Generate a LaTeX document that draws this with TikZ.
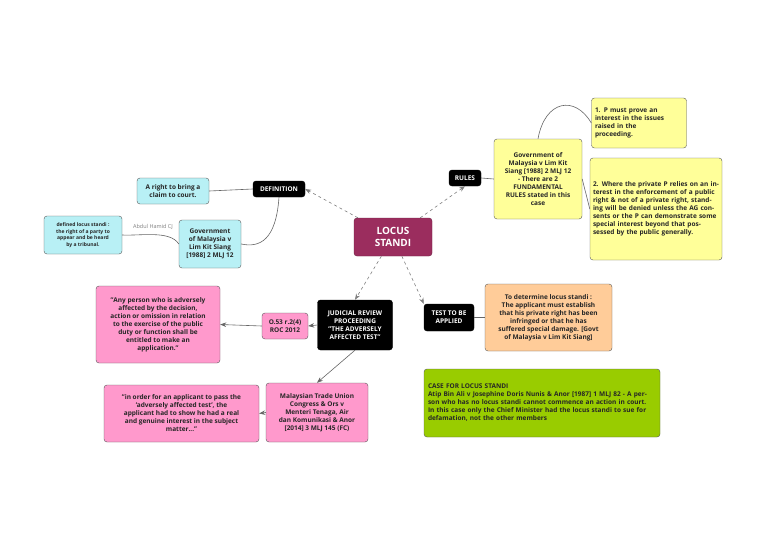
\documentclass[tikz,border=0pt]{standalone}
\usepackage{fontspec}
\setmainfont{Open Sans}
\usetikzlibrary{arrows.meta}
\definecolor{cy}{HTML}{B8F0F5}
\definecolor{yl}{HTML}{FFFF99}
\definecolor{pk}{HTML}{FF99CC}
\definecolor{orr}{HTML}{FFCC99}
\definecolor{gr}{HTML}{99CC00}
\definecolor{mg}{HTML}{9B2D5E}
\begin{document}
\begin{tikzpicture}[x=1pt,y=-1pt,
 bx/.style={draw=gray!70!black,rounded corners=3pt,font=\bfseries\fontsize{6.5}{8}\selectfont,align=center,inner sep=2pt,text=black!85},
 blk/.style={bx,fill=black,text=white,draw=black},
 ln/.style={draw=gray!80!black,line width=0.6pt},
 da/.style={draw=gray,dashed,line width=0.6pt,-{Stealth[length=6pt]}},
 ar/.style={ln,-{Stealth[length=6pt]}}]
\useasboundingbox (0,0) rectangle (768,543);
\fill[white] (0,0) rectangle (768,543);
\node[bx,fill=mg,text=white,draw=mg!70!black,font=\bfseries\fontsize{10}{12}\selectfont,minimum width=78,minimum height=38] (ls) at (393,237) {LOCUS\\STANDI};
\node[blk,minimum width=52,minimum height=16] (def) at (279,189) {DEFINITION};
\node[bx,fill=cy,minimum width=72,minimum height=26] (rt) at (173,191) {A right to bring a\\claim to court.};
\node[bx,fill=cy,minimum width=62,minimum height=48] (gv) at (210,244) {Government\\of Malaysia v\\Lim Kit Siang\\{[1988]} 2 MLJ 12};
\node[bx,fill=cy,font=\bfseries\fontsize{5}{6.5}\selectfont,minimum width=78,minimum height=38] (dl) at (83,235) {defined locus standi :\\the right of a party to\\appear and be heard\\by a tribunal.};
\node[font=\fontsize{5.5}{6}\selectfont,text=gray] (ah) at (153,227) {Abdul Hamid CJ};
\node[blk,minimum width=32,minimum height=16] (ru) at (465,178) {RULES};
\node[bx,fill=yl,minimum width=88,minimum height=80] (gy) at (538,179) {Government of\\Malaysia v Lim Kit\\Siang [1988] 2 MLJ 12\\- There are 2\\FUNDAMENTAL\\RULES stated in this\\case};
\node[bx,fill=yl,align=left,minimum width=95,minimum height=50,text width=88] (r1) at (639,123) {1. P must prove an\\interest in the issues\\raised in the\\proceeding.};
\node[bx,fill=yl,align=left,minimum width=132,minimum height=102,text width=126] (r2) at (656,209) {2. Where the private P relies on an interest in the enforcement of a public right \& not of a private right, standing will be denied unless the AG consents or the P can demonstrate some special interest beyond that possessed by the public generally.};
\node[blk,minimum width=75,minimum height=50] (jr) at (355,325) {JUDICIAL REVIEW\\PROCEEDING\\"THE ADVERSELY\\AFFECTED TEST"};
\node[bx,fill=pk,minimum width=46,minimum height=26] (o53) at (285,326) {O.53 r.2(4)\\ROC 2012};
\node[bx,fill=pk,minimum width=124,minimum height=77] (ap) at (158,324.5) {"Any person who is adversely\\affected by the decision,\\action or omission in relation\\to the exercise of the public\\duty or function shall be\\entitled to make an\\application."};
\node[bx,fill=pk,minimum width=102,minimum height=59] (mt) at (317,412.5) {Malaysian Trade Union\\Congress \& Ors v\\Menteri Tenaga, Air\\dan Komunikasi \& Anor\\{[2014]} 3 MLJ 145 (FC)};
\node[bx,fill=pk,minimum width=155,minimum height=57] (io) at (181.5,413.5) {"in order for an applicant to pass the\\'adversely affected test', the\\applicant had to show he had a real\\and genuine interest in the subject\\matter..."};
\node[blk,minimum width=50,minimum height=27] (tt) at (449,317.5) {TEST TO BE\\APPLIED};
\node[bx,fill=orr,minimum width=127,minimum height=67] (td) at (548.5,317.5) {To determine locus standi :\\The applicant must establish\\that his private right has been\\infringed or that he has\\suffered special damage. [Govt\\of Malaysia v Lim Kit Siang]};
\node[bx,fill=gr,align=left,minimum width=236,minimum height=68,text width=228] (cs) at (542,403) {CASE FOR LOCUS STANDI\\Atip Bin Ali v Josephine Doris Nunis \& Anor [1987] 1 MLJ 82 - A person who has no locus standi cannot commence an action in court. In this case only the Chief Minister had the locus standi to sue for defamation, not the other members};
\draw[da] (ls) -- (def.east);
\draw[da] (ls) -- (ru.south);
\draw[da] (ls) -- (jr.north);
\draw[da] (ls) -- (tt.north west);
\draw[ln] (def.west) -- (rt.east);
\draw[ln] (def.south) .. controls (276,240) and (260,248) .. (gv.east);
\draw[ln] (gv.west) .. controls (170,230) and (140,236) .. (dl.east);
\draw[ln] (ru.east) -- (gy.west);
\draw[ln] (gy.north) .. controls (545,100) and (575,95) .. (r1.west);
\draw[ln] (gy.east) -- (r2.west);
\draw[ar] (jr.west) -- (o53.east);
\draw[ar] (o53.west) -- (ap.east);
\draw[ar] (jr.south) -- (mt.north);
\draw[ar] (mt.west) -- (io.east);
\draw[ln] (tt.east) -- (td.west);
\end{tikzpicture}
\end{document}
